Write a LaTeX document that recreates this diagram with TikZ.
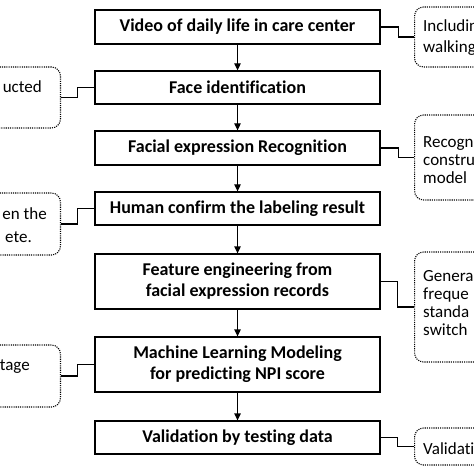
\documentclass[tikz,border=0pt]{standalone}
\usepackage{fontspec}
\setmainfont{Carlito}[Ligatures=NoCommon]
\usetikzlibrary{arrows.meta}
\begin{document}
\begin{tikzpicture}[x=1bp,y=-1bp,
  mainbox/.style={draw, line width=1.3bp, minimum width=285bp, inner sep=0pt, align=center,
    font=\bfseries\fontsize{18bp}{21bp}\selectfont},
  note/.style={draw, line width=1.1bp, dash pattern=on 1.1bp off 1.1bp, rounded corners=9bp, inner sep=0pt},
  notetext/.style={inner sep=0pt, font=\fontsize{17bp}{19bp}\selectfont},
  flow/.style={line width=1.3bp, -{Triangle[length=7bp,width=6.5bp]}},
  link/.style={line width=1.1bp}]
\useasboundingbox (0,0) rectangle (474,474);
\fill[white] (0,0) rectangle (474,474);
\clip (0,0) rectangle (474,474);

% main flow boxes
\node[mainbox, minimum height=34bp] (b1) at (237.5,27) {Video of daily life in care center};
\node[mainbox, minimum height=33bp] (b2) at (237.5,87.5) {Face identification};
\node[mainbox, minimum height=34bp] (b3) at (237.5,148) {Facial expression Recognition};
\node[mainbox, minimum height=33bp] (b4) at (237.5,208.5) {Human confirm the labeling result};
\node[mainbox, minimum height=55bp] (b5) at (237.5,281.5) {Feature engineering from\\facial expression records};
\node[mainbox, minimum height=55bp] (b6) at (237.5,364.5) {Machine Learning Modeling\\for predicting NPI score};
\node[mainbox, minimum height=33bp] (b7) at (237.5,437.5) {Validation by testing data};

\draw[flow] (b1) -- (b2);
\draw[flow] (b2) -- (b3);
\draw[flow] (b3) -- (b4);
\draw[flow] (b4) -- (b5);
\draw[flow] (b5) -- (b6);
\draw[flow] (b6) -- (b7);

% right notes
\node[note, anchor=west, minimum width=150bp, minimum height=60bp] (r1) at (414,37) {};
\node[note, anchor=west, minimum width=150bp, minimum height=85bp] (r2) at (414,157.5) {};
\node[note, anchor=west, minimum width=150bp, minimum height=110bp] (r3) at (414,307) {};
\node[note, anchor=west, minimum width=150bp, minimum height=37bp] (r4) at (414,446.5) {};

% left notes
\node[note, anchor=east, minimum width=200bp, minimum height=61bp] (l1) at (61,97.5) {};
\node[note, anchor=east, minimum width=200bp, minimum height=62bp] (l2) at (61,224) {};
\node[note, anchor=east, minimum width=200bp, minimum height=62bp] (l3) at (61,376) {};

% connectors
\draw[link] (b1.east) -- ++(18,0) |- (r1.west);
\draw[link] (b2.west) -- ++(-17,0) |- (l1.east);
\draw[link] (b3.east) -- ++(18,0) |- (r2.west);
\draw[link] (b4.west) -- ++(-17,0) |- (l2.east);
\draw[link] (b5.east) -- ++(17,0) |- (r3.west);
\draw[link] (b6.west) -- ++(-17,0) |- (l3.east);
\draw[link] (b7.east) -- ++(17,0) |- (r4.west);

% right note texts
\node[notetext, anchor=base west] (r1a) at (423,32) {Includin};
\node[notetext, anchor=base west] (r1b) at (423,53) {walking};
\node[notetext, anchor=base west] (r2a) at (423,148) {Recogni};
\node[notetext, anchor=base west] (r2b) at (423,166) {constru};
\node[notetext, anchor=base west] (r2c) at (423,184) {model};
\node[notetext, anchor=base west] (r3a) at (423,281) {Genera};
\node[notetext, anchor=base west] (r3b) at (423,299) {freque};
\node[notetext, anchor=base west] (r3c) at (423,317) {standa};
\node[notetext, anchor=base west] (r3d) at (423,335) {switch};
\node[notetext, anchor=base west] (r4a) at (423,454) {Validati};

% left note texts
\node[notetext, anchor=base east] (l1a) at (42,93) {ucted};
\node[notetext, anchor=base east] (l2a) at (47,220) {en the};
\node[notetext, anchor=base east] (l2b) at (32,242) {ete.};
\node[notetext, anchor=base east] (l3a) at (30,370) {tage};
\end{tikzpicture}
\end{document}
